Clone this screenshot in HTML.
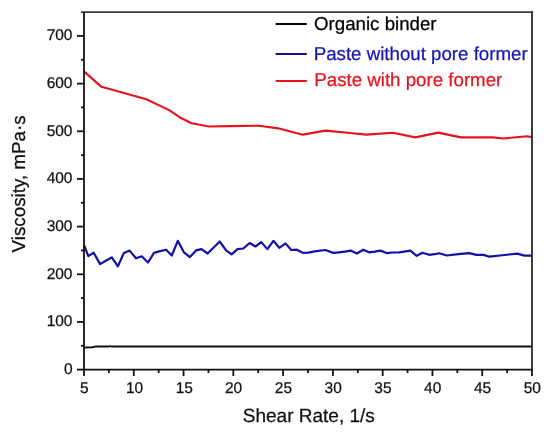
<!DOCTYPE html>
<html><head><meta charset="utf-8"><style>
html,body{margin:0;padding:0;background:#fff;}
body{width:550px;height:437px;overflow:hidden;}
svg{display:block;}
text{font-family:"Liberation Sans",Arial,sans-serif;text-rendering:geometricPrecision;stroke:currentColor;stroke-width:0.25px;}
</style></head><body>
<svg width="550" height="437" viewBox="0 0 550 437">
<rect width="550" height="437" fill="#fff"/>
<g fill="none" stroke-linejoin="round" stroke-linecap="butt">
<polyline points="84.0,347.4 92.5,347.2 95.0,346.6 108.0,346.6 110.0,346.1 112.0,346.6 532.0,346.6" stroke="#111" stroke-width="2"/>
<polyline points="84.2,245.3 88.3,256.1 93.7,252.7 100.1,264.1 106.7,260.3 111.8,257.4 117.9,266.3 123.9,252.9 129.6,250.6 136.0,258.3 141.7,256.3 148.0,262.5 154.0,252.9 159.1,251.4 166.1,249.7 171.8,255.5 177.8,240.8 183.9,252.3 189.9,257.1 196.0,250.4 201.5,249.1 207.6,253.5 219.7,241.5 226.1,250.4 231.6,254.4 237.5,249.1 243.3,248.5 249.6,243.0 255.4,246.5 261.3,242.1 267.4,249.1 273.4,240.8 279.3,247.8 285.5,243.4 291.2,250.0 296.9,249.7 303.3,252.9 308.4,252.7 314.7,251.4 325.3,250.0 333.4,252.9 339.1,252.3 344.8,251.6 350.5,250.6 356.9,253.5 363.3,249.7 369.0,252.3 374.7,251.6 380.5,250.6 387.2,253.2 392.1,252.5 399.1,252.3 404.2,251.6 410.3,250.6 416.7,255.8 422.6,252.7 429.0,254.8 434.7,254.2 439.2,253.2 446.8,255.5 458.2,254.2 469.1,253.1 476.4,254.9 483.6,254.9 489.5,256.7 500.0,255.5 509.1,254.5 517.3,253.6 524.5,255.6 531.8,255.6" stroke="#1010a8" stroke-width="2.2"/>
<polyline transform="translate(0,0.15)" points="84.5,71.7 101.5,86.7 146.4,99.1 169.1,110.0 180.0,117.3 191.5,123.1 209.1,126.4 230.0,126.0 259.1,125.6 278.2,128.2 302.7,134.5 325.5,130.5 350.0,132.8 366.4,134.5 392.7,132.6 415.5,137.2 438.2,132.5 460.9,137.2 492.7,137.2 503.6,138.3 527.3,136.1 531.8,137.2" stroke="#e8121c" stroke-width="2.1"/>
</g>
<line x1="81" y1="12.1" x2="532.8" y2="12.1" stroke="#3c3c3c" stroke-width="1.8"/>
<line x1="532" y1="11.2" x2="532" y2="369.6" stroke="#1c1c1c" stroke-width="1.7"/>
<line x1="84" y1="12.1" x2="84" y2="370.5" stroke="#111" stroke-width="1.8"/>
<line x1="83.1" y1="369.6" x2="532.8" y2="369.6" stroke="#111" stroke-width="1.8"/>
<g stroke="#111" stroke-width="1.8">
<line x1="77" y1="369.60" x2="84" y2="369.60"/><line x1="77" y1="321.93" x2="84" y2="321.93"/><line x1="77" y1="274.27" x2="84" y2="274.27"/><line x1="77" y1="226.60" x2="84" y2="226.60"/><line x1="77" y1="178.93" x2="84" y2="178.93"/><line x1="77" y1="131.27" x2="84" y2="131.27"/><line x1="77" y1="83.60" x2="84" y2="83.60"/><line x1="77" y1="35.93" x2="84" y2="35.93"/><line x1="81" y1="345.77" x2="84" y2="345.77"/><line x1="81" y1="298.10" x2="84" y2="298.10"/><line x1="81" y1="250.43" x2="84" y2="250.43"/><line x1="81" y1="202.77" x2="84" y2="202.77"/><line x1="81" y1="155.10" x2="84" y2="155.10"/><line x1="81" y1="107.43" x2="84" y2="107.43"/><line x1="81" y1="59.77" x2="84" y2="59.77"/><line x1="84.00" y1="369.6" x2="84.00" y2="376"/><line x1="133.78" y1="369.6" x2="133.78" y2="376"/><line x1="183.56" y1="369.6" x2="183.56" y2="376"/><line x1="233.33" y1="369.6" x2="233.33" y2="376"/><line x1="283.11" y1="369.6" x2="283.11" y2="376"/><line x1="332.89" y1="369.6" x2="332.89" y2="376"/><line x1="382.67" y1="369.6" x2="382.67" y2="376"/><line x1="432.44" y1="369.6" x2="432.44" y2="376"/><line x1="482.22" y1="369.6" x2="482.22" y2="376"/><line x1="532.00" y1="369.6" x2="532.00" y2="376"/><line x1="108.89" y1="369.6" x2="108.89" y2="373"/><line x1="158.67" y1="369.6" x2="158.67" y2="373"/><line x1="208.44" y1="369.6" x2="208.44" y2="373"/><line x1="258.22" y1="369.6" x2="258.22" y2="373"/><line x1="308.00" y1="369.6" x2="308.00" y2="373"/><line x1="357.78" y1="369.6" x2="357.78" y2="373"/><line x1="407.56" y1="369.6" x2="407.56" y2="373"/><line x1="457.33" y1="369.6" x2="457.33" y2="373"/><line x1="507.11" y1="369.6" x2="507.11" y2="373"/>
</g>
<g font-size="15.5" fill="#111" color="#111">
<text x="72.5" y="374.20" text-anchor="end">0</text><text x="72.5" y="326.23" text-anchor="end">100</text><text x="72.5" y="278.87" text-anchor="end">200</text><text x="72.5" y="231.20" text-anchor="end">300</text><text x="72.5" y="182.83" text-anchor="end">400</text><text x="72.5" y="135.87" text-anchor="end">500</text><text x="72.5" y="88.20" text-anchor="end">600</text><text x="72.5" y="39.63" text-anchor="end">700</text>
<text x="84.30" y="393.1" text-anchor="middle">5</text><text x="134.58" y="393.1" text-anchor="middle">10</text><text x="184.36" y="393.1" text-anchor="middle">15</text><text x="233.63" y="393.1" text-anchor="middle">20</text><text x="283.41" y="393.1" text-anchor="middle">25</text><text x="333.19" y="393.1" text-anchor="middle">30</text><text x="382.97" y="393.1" text-anchor="middle">35</text><text x="432.74" y="393.1" text-anchor="middle">40</text><text x="482.52" y="393.1" text-anchor="middle">45</text><text x="532.30" y="393.1" text-anchor="middle">50</text>
</g>
<text x="308.8" y="421.8" font-size="19" text-anchor="middle" fill="#111" color="#111">Shear Rate, 1/s</text>
<text transform="translate(25.2,183.9) rotate(-90)" font-size="18.8" text-anchor="middle" fill="#111" color="#111">Viscosity, mPa·s</text>
<g stroke-width="2">
<line x1="275.6" y1="24" x2="306.8" y2="24" stroke="#000"/>
<line x1="275.6" y1="54" x2="306.8" y2="54" stroke="#10109c"/>
<line x1="275.6" y1="81" x2="306.8" y2="81" stroke="#ec1016"/>
</g>
<g font-size="18.7">
<text x="314" y="30.3" fill="#000" color="#000">Organic binder</text>
<text x="313.7" y="59.8" fill="#1414b4" color="#1414b4">Paste without pore former</text>
<text x="314.3" y="86" fill="#e8121c" color="#e8121c">Paste with pore former</text>
</g>
</svg>
</body></html>
